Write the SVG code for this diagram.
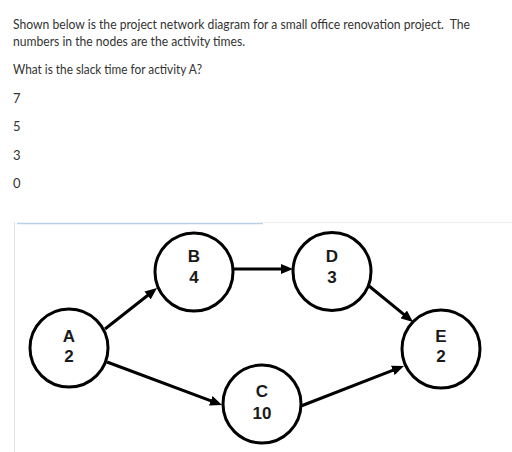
<svg xmlns="http://www.w3.org/2000/svg" width="512" height="452" viewBox="0 0 512 452">
<style>
.q{font-family:Lato,"Open Sans","Liberation Sans",sans-serif;font-size:13px;fill:#333}
.n circle{fill:#fff;stroke:#000;stroke-width:3}
.n text{font-family:"Liberation Sans",Arial,sans-serif;font-weight:bold;font-size:17px;fill:#1a1a1a;text-anchor:middle}
.c line{stroke:#000;stroke-width:3;marker-end:url(#ah)}
</style>
<defs>
<marker id="ah" markerUnits="userSpaceOnUse" markerWidth="12" markerHeight="10" refX="6" refY="5" orient="auto">
<path d="M0,0 L12,5 L0,10 z" fill="#000"/>
</marker>
</defs>
<rect width="512" height="452" fill="#fff"/>
<g id="question">
<text class="q" x="13" y="29" textLength="457" lengthAdjust="spacingAndGlyphs" xml:space="preserve">Shown below is the project network diagram for a small office renovation project.  The</text>
<text class="q" x="13" y="46" textLength="232" lengthAdjust="spacingAndGlyphs">numbers in the nodes are the activity times.</text>
<text class="q" x="13" y="74" textLength="189" lengthAdjust="spacingAndGlyphs">What is the slack time for activity A?</text>
<text class="q" x="13" y="103">7</text>
<text class="q" x="13" y="131">5</text>
<text class="q" x="13" y="160">3</text>
<text class="q" x="13" y="188">0</text>
</g>
<g id="frame">
<line x1="14.5" y1="222" x2="14.5" y2="452" stroke="#e3e3e3" stroke-width="1"/>
<line x1="263" y1="222.5" x2="512" y2="222.5" stroke="#ececec" stroke-width="1"/>
<line x1="17" y1="223.5" x2="263" y2="223.5" stroke="#b9cfe6" stroke-width="1.5"/>
</g>
<g id="connectors" class="c">
<line x1="105" y1="329" x2="152.3" y2="291.7"/>
<line x1="234" y1="269" x2="287" y2="269"/>
<line x1="369" y1="286" x2="408.4" y2="318.2"/>
<line x1="107" y1="362" x2="216.4" y2="402.9"/>
<line x1="301" y1="406" x2="398.4" y2="368.2"/>
</g>
<g id="nodeA" class="n"><circle cx="69" cy="348" r="39"/><text x="69" y="342">A</text><text x="69" y="362">2</text></g>
<g id="nodeB" class="n"><circle cx="194" cy="272" r="39"/><text x="194" y="262">B</text><text x="194" y="283">4</text></g>
<g id="nodeD" class="n"><circle cx="332" cy="271.5" r="39"/><text x="332" y="262">D</text><text x="332" y="283">3</text></g>
<g id="nodeE" class="n"><circle cx="441" cy="349" r="39"/><text x="441" y="342">E</text><text x="441" y="362">2</text></g>
<g id="nodeC" class="n"><circle cx="262" cy="404" r="39"/><text x="262" y="397">C</text><text x="262" y="419">10</text></g>
</svg>
